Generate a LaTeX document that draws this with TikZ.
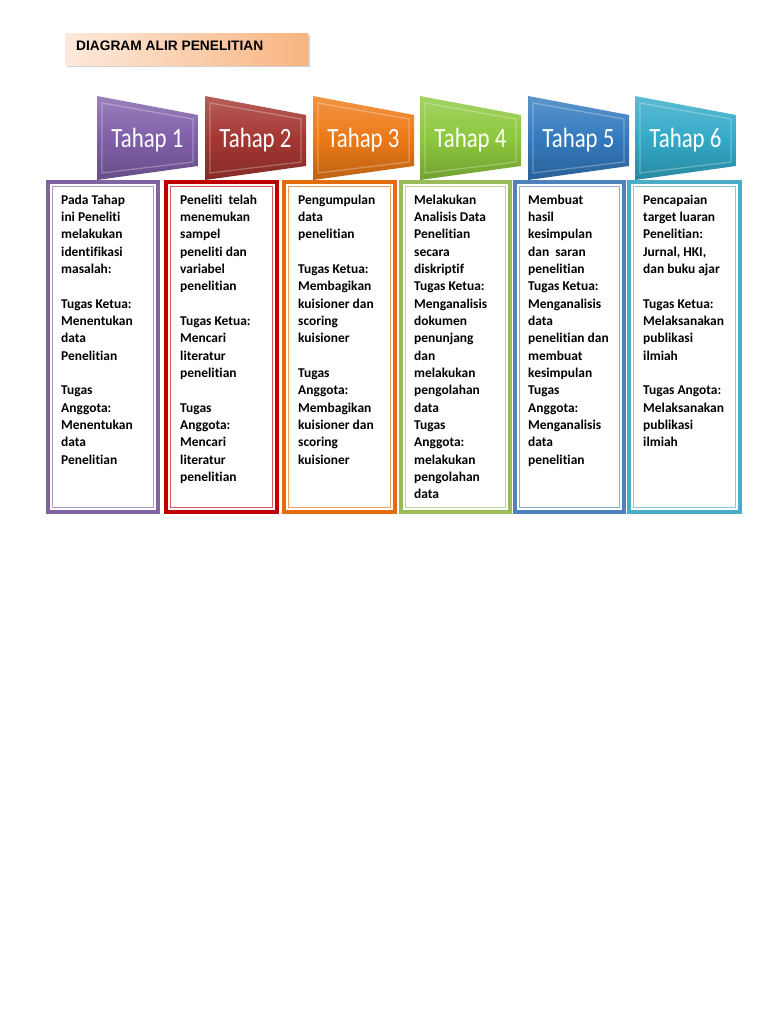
\documentclass[tikz,border=0pt]{standalone}
\usepackage{fontspec}
\usepackage{graphicx}
\setmainfont[Ligatures=NoCommon]{Carlito}
\newfontfamily\judulfont{Liberation Sans}
\definecolor{identifikasi}{RGB}{128,96,170}
\definecolor{sampel}{RGB}{165,55,50}
\definecolor{pengumpulan}{RGB}{236,122,24}
\definecolor{analisis}{RGB}{141,200,62}
\definecolor{kesimpulan}{RGB}{52,122,190}
\definecolor{luaran}{RGB}{52,170,200}
\definecolor{identifikasiframe}{RGB}{128,100,162}
\definecolor{sampelframe}{RGB}{192,0,0}
\definecolor{pengumpulanframe}{RGB}{228,108,10}
\definecolor{analisisframe}{RGB}{155,187,89}
\definecolor{kesimpulanframe}{RGB}{79,129,189}
\definecolor{luaranframe}{RGB}{75,172,198}
\definecolor{judullight}{RGB}{253,234,220}
\definecolor{juduldark}{RGB}{248,180,128}
\newcommand{\Tahapshape}[2]{%
  \shade[top color=#2!80!white, bottom color=#2!80!black, middle color=#2]
    (#1,96) -- (#1+101,115) -- (#1+101,166) -- (#1,180) -- cycle;
  \draw[white, opacity=.28, line width=1.3bp]
    (#1+5,103) -- (#1+96,119) -- (#1+96,162) -- (#1+5,173) -- cycle;}
\newcommand{\Tahaptext}[1]{\scalebox{0.82}[1]{#1}}
\tikzstyle{tahaplabel}=[anchor=base, inner sep=0pt, text=white, font=\fontsize{28}{30}\selectfont]
\tikzstyle{framethick}=[line width=4bp]
\tikzstyle{framethin}=[line width=1bp]
\tikzstyle{isi}=[anchor=base west, inner sep=0pt, font=\bfseries\fontsize{13.5}{17.4}\selectfont]

\begin{document}
\begin{tikzpicture}[x=1bp,y=-1bp]
  \fill[white] (0,0) rectangle (768,1024);
  \useasboundingbox (0,0) rectangle (768,1024);

  %% Judul
  \fill[black, opacity=.18] (67,35) rectangle (310,67);
  \shade[left color=judullight, right color=juduldark] (65,33) rectangle (308,65);
  \draw (76,46) node[anchor=west, inner sep=0pt, font=\judulfont\bfseries\fontsize{13.8}{16}\selectfont] (judul) {DIAGRAM ALIR PENELITIAN};

  %% Tahap
  \Tahapshape{97}{identifikasi}
  \Tahapshape{205}{sampel}
  \Tahapshape{313}{pengumpulan}
  \Tahapshape{420}{analisis}
  \Tahapshape{528}{kesimpulan}
  \Tahapshape{635}{luaran}
  \draw (147.5,147) node[tahaplabel] (T1) {\Tahaptext{Tahap 1}};
  \draw (255.5,147) node[tahaplabel] (T2) {\Tahaptext{Tahap 2}};
  \draw (363.5,147) node[tahaplabel] (T3) {\Tahaptext{Tahap 3}};
  \draw (470.5,147) node[tahaplabel] (T4) {\Tahaptext{Tahap 4}};
  \draw (578.5,147) node[tahaplabel] (T5) {\Tahaptext{Tahap 5}};
  \draw (685.5,147) node[tahaplabel] (T6) {\Tahaptext{Tahap 6}};

  %% Kotak
  \draw[framethick, color=identifikasiframe] (48,182) rectangle (158,512);
  \draw[framethin, color=identifikasiframe!65!white] (52.5,186.5) rectangle (153.5,507.5);
  \draw[framethick, color=sampelframe] (166,182) rectangle (277,512);
  \draw[framethin, color=sampelframe!65!white] (170.5,186.5) rectangle (272.5,507.5);
  \draw[framethick, color=pengumpulanframe] (284,182) rectangle (395,512);
  \draw[framethin, color=pengumpulanframe!65!white] (288.5,186.5) rectangle (390.5,507.5);
  \draw[framethick, color=analisisframe] (401,182) rectangle (510,512);
  \draw[framethin, color=analisisframe!65!white] (405.5,186.5) rectangle (505.5,507.5);
  \draw[framethick, color=kesimpulanframe] (515,182) rectangle (624,512);
  \draw[framethin, color=kesimpulanframe!65!white] (519.5,186.5) rectangle (619.5,507.5);
  \draw[framethick, color=luaranframe] (629,182) rectangle (740,512);
  \draw[framethin, color=luaranframe!65!white] (633.5,186.5) rectangle (735.5,507.5);

  %% Isi
  \draw (61,204) node[isi] (K1) {\parbox[t]{95bp}{Pada Tahap\\ini Peneliti\\melakukan\\identifikasi\\masalah:\\[17.4bp]Tugas Ketua:\\Menentukan\\data\\Penelitian\\[17.4bp]Tugas\\Anggota:\\Menentukan\\data\\Penelitian}};
  \draw (180,204) node[isi] (K2) {\parbox[t]{95bp}{Peneliti\ \ telah\\menemukan\\sampel\\peneliti dan\\variabel\\penelitian\\[17.4bp]Tugas Ketua:\\Mencari\\literatur\\penelitian\\[17.4bp]Tugas\\Anggota:\\Mencari\\literatur\\penelitian}};
  \draw (298,204) node[isi] (K3) {\parbox[t]{95bp}{Pengumpulan\\data\\penelitian\\[17.4bp]Tugas Ketua:\\Membagikan\\kuisioner dan\\scoring\\kuisioner\\[17.4bp]Tugas\\Anggota:\\Membagikan\\kuisioner dan\\scoring\\kuisioner}};
  \draw (414,204) node[isi] (K4) {\parbox[t]{95bp}{Melakukan\\Analisis Data\\Penelitian\\secara\\diskriptif\\Tugas Ketua:\\Menganalisis\\dokumen\\penunjang\\dan\\melakukan\\pengolahan\\data\\Tugas\\Anggota:\\melakukan\\pengolahan\\data}};
  \draw (528,204) node[isi] (K5) {\parbox[t]{95bp}{Membuat\\hasil\\kesimpulan\\dan\ \ saran\\penelitian\\Tugas Ketua:\\Menganalisis\\data\\penelitian dan\\membuat\\kesimpulan\\Tugas\\Anggota:\\Menganalisis\\data\\penelitian}};
  \draw (643,204) node[isi] (K6) {\parbox[t]{95bp}{Pencapaian\\target luaran\\Penelitian:\\Jurnal, HKI,\\dan buku ajar\\[17.4bp]Tugas Ketua:\\Melaksanakan\\publikasi\\ilmiah\\[17.4bp]Tugas Angota:\\Melaksanakan\\publikasi\\ilmiah}};
\end{tikzpicture}
\end{document}
